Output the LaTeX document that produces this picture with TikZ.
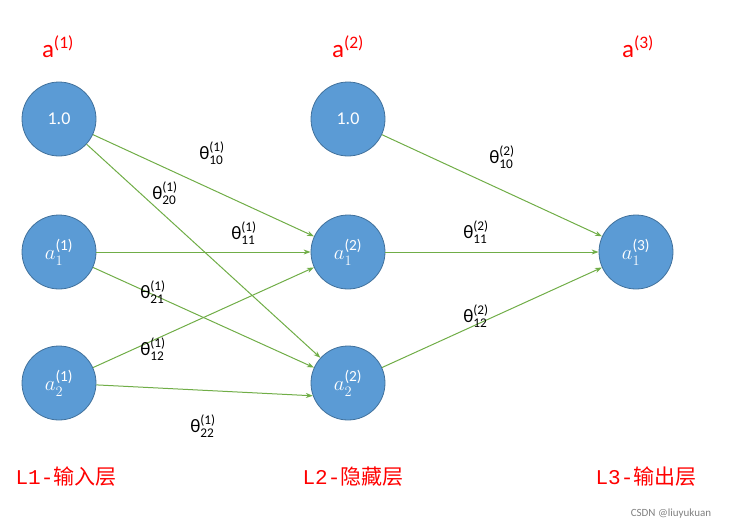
\documentclass[tikz,border=0pt]{standalone}
\usepackage{amsmath}
\usepackage{fontspec}
\setmainfont{Carlito}
\newfontfamily\cjk{Noto Sans CJK SC}
\newfontfamily\lmono{Liberation Mono}
\usetikzlibrary{arrows.meta}
\newcommand\wt[2]{θ$^{\text{(#2)}}_{\text{#1}}$}
\newcommand\av[2]{\fontsize{22}{22}\selectfont$a_{#1}^{\text{(#2)}}$}
\begin{document}
\begin{tikzpicture}[x=1pt,y=-1pt,
  neuron/.style={circle,minimum size=74pt,inner sep=0pt,fill={rgb,255:red,91;green,155;blue,213},draw={rgb,255:red,65;green,113;blue,156},line width=0.8pt,text=white,font=\fontsize{18}{18}\selectfont},
  conn/.style={draw={rgb,255:red,112;green,173;blue,71},line width=1pt,-{Stealth[length=7pt,width=5pt]}},
  wl/.style={font=\fontsize{19}{19}\selectfont,inner sep=0pt},
  red/.style={text={rgb,255:red,255;green,0;blue,0}},
  lay/.style={red,font=\fontsize{21}{21}\selectfont},
  top/.style={red,font=\fontsize{25}{25}\selectfont}]
\useasboundingbox (0,0) rectangle (743,531);
\node[neuron] (b1) at (59,119) {1.0};
\node[neuron] (x1) at (59,252) {\av{1}{1}};
\node[neuron] (x2) at (59,383) {\av{2}{1}};
\node[neuron] (b2) at (348,119) {1.0};
\node[neuron] (h1) at (348,252) {\av{1}{2}};
\node[neuron] (h2) at (348,383) {\av{2}{2}};
\node[neuron] (o1) at (636,252) {\av{1}{3}};
\draw[conn] (b1) -- (h1);
\draw[conn] (b1) -- (h2);
\draw[conn] (x1) -- (h1);
\draw[conn] (x1) -- (h2);
\draw[conn] (x2) -- (h1);
\draw[conn] (x2) -- (h2.200);
\draw[conn] (b2) -- (o1);
\draw[conn] (h1) -- (o1);
\draw[conn] (h2) -- (o1);
\node[wl] (t10a) at (212,153) {\wt{10}{1}};
\node[wl] (t20a) at (165,193) {\wt{20}{1}};
\node[wl] (t11a) at (244,233) {\wt{11}{1}};
\node[wl] (t21a) at (153,292) {\wt{21}{1}};
\node[wl] (t12a) at (153,349) {\wt{12}{1}};
\node[wl] (t22a) at (203,426) {\wt{22}{1}};
\node[wl] (t10b) at (502,157) {\wt{10}{2}};
\node[wl] (t11b) at (476,232) {\wt{11}{2}};
\node[wl] (t12b) at (476,316) {\wt{12}{2}};
\node[top] (la1) at (58,47) {a$^{\text{(1)}}$};
\node[top] (la2) at (348,47) {a$^{\text{(2)}}$};
\node[top] (la3) at (638,47) {a$^{\text{(3)}}$};
\node[lay] (L1) at (66,477) {{\lmono L1-}{\cjk 输入层}};
\node[lay] (L2) at (353,477) {{\lmono L2-}{\cjk 隐藏层}};
\node[lay] (L3) at (646,477) {{\lmono L3-}{\cjk 输出层}};
\node[text=gray,font=\fontsize{11}{11}\selectfont] (wm) at (671,514) {CSDN @liuyukuan};
\end{tikzpicture}
\end{document}
